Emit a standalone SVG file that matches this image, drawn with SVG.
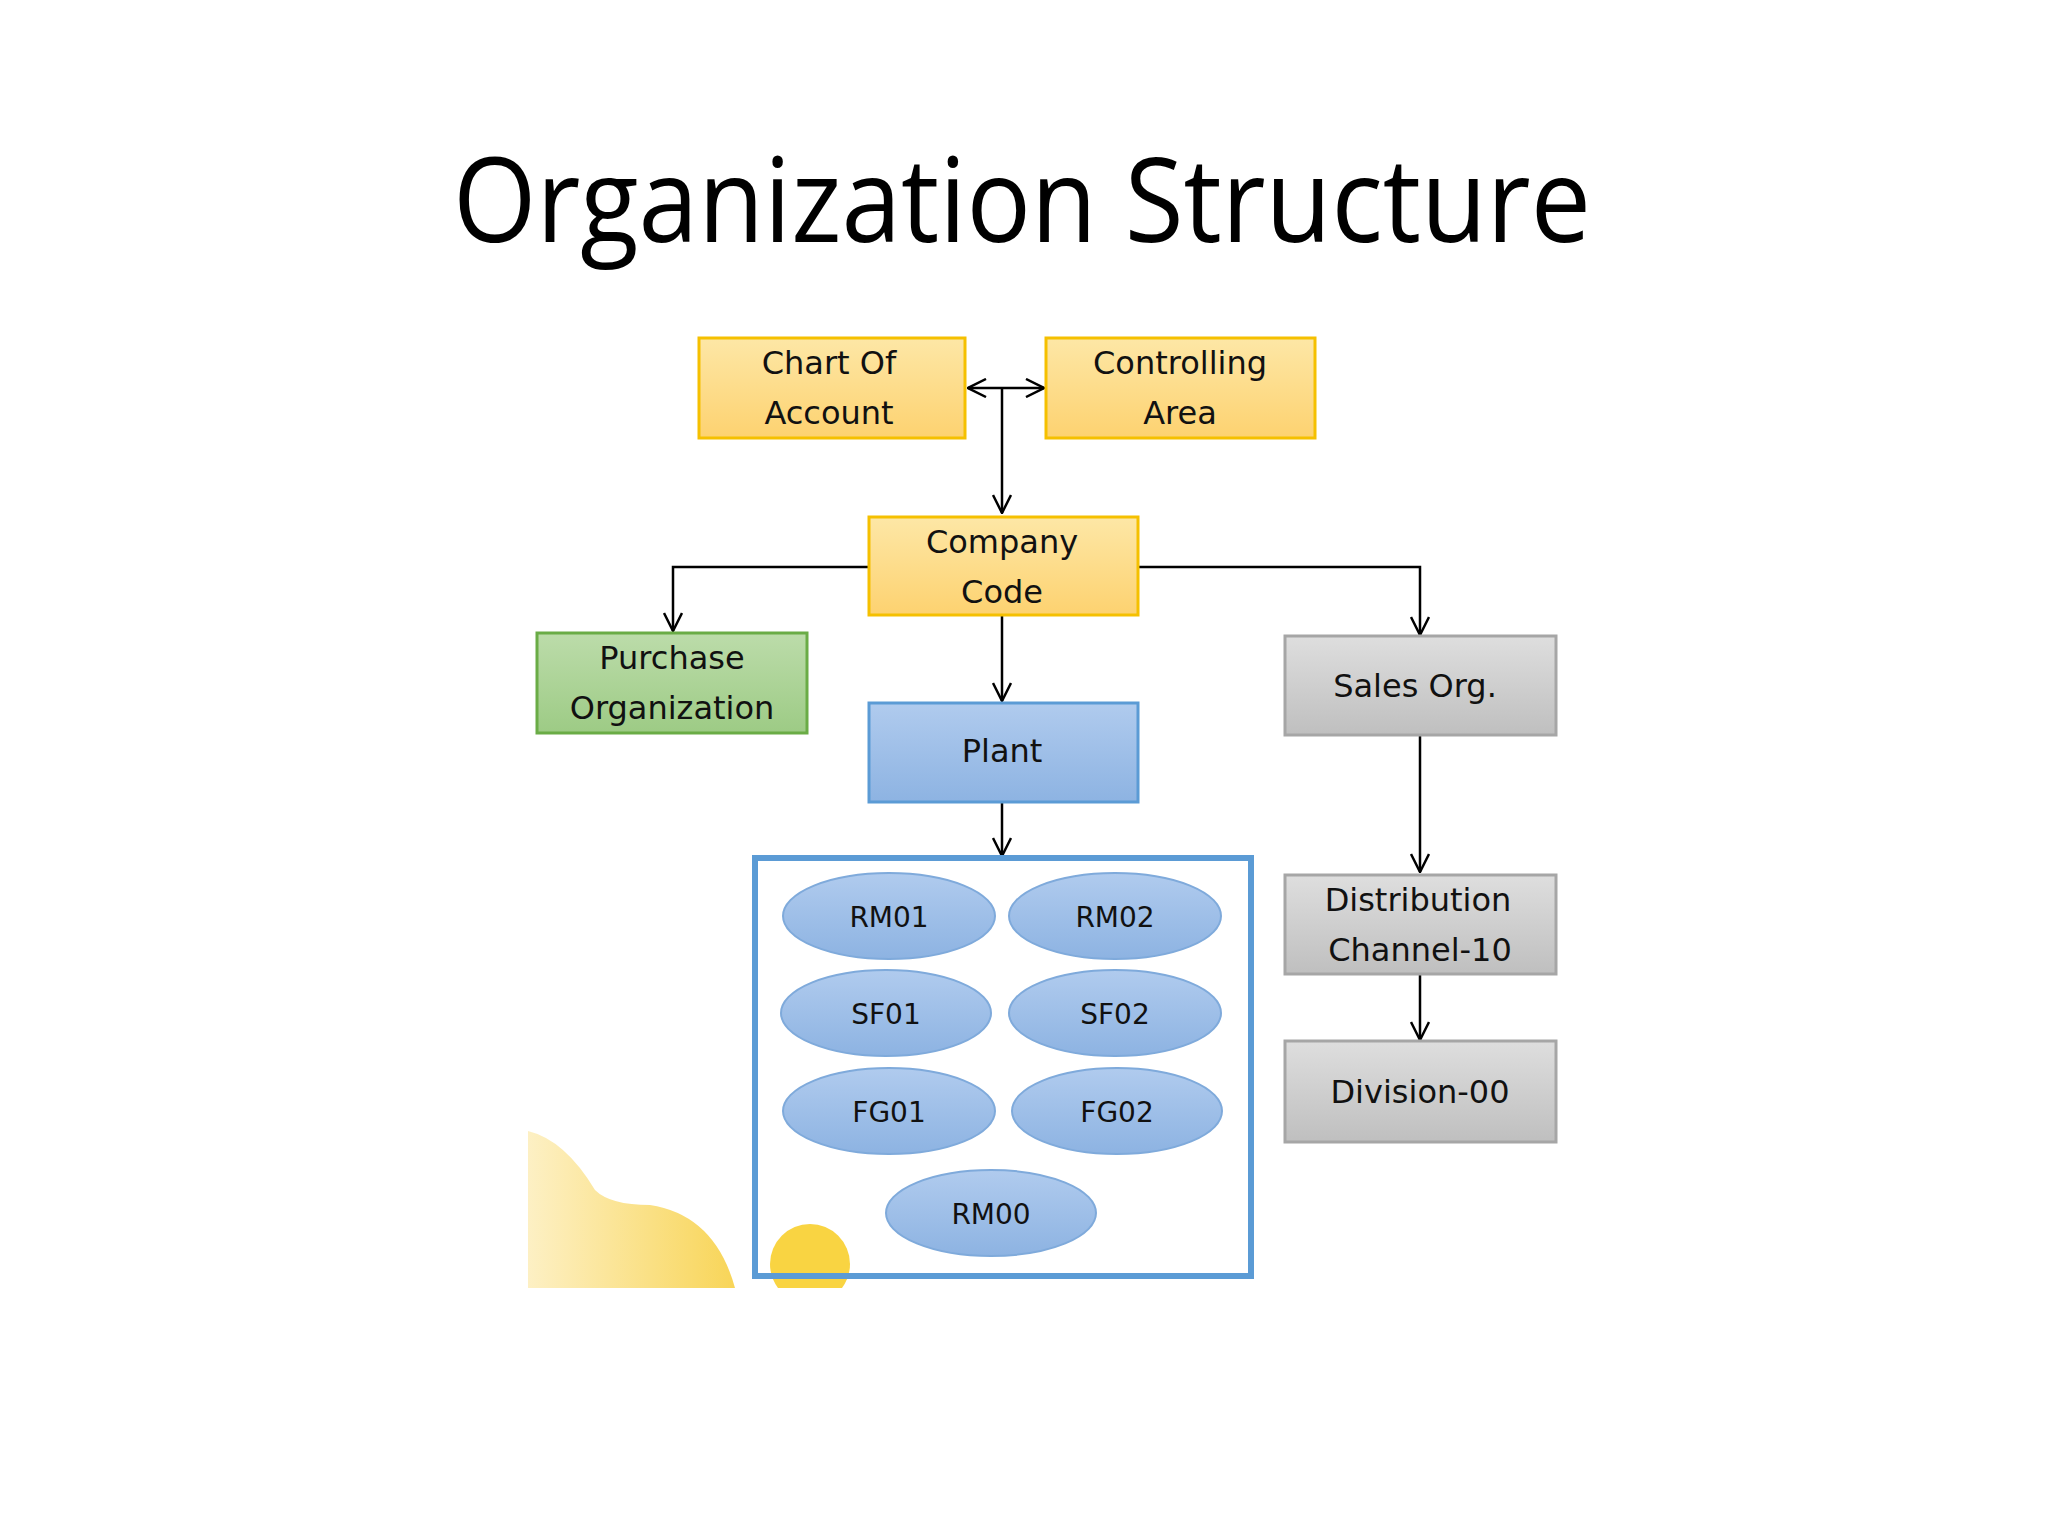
<svg xmlns="http://www.w3.org/2000/svg" width="2048" height="1536" viewBox="0 0 2048 1536">
<defs>
<linearGradient id="gy" x1="0" y1="0" x2="0" y2="1"><stop offset="0" stop-color="#fde7a6"/><stop offset="1" stop-color="#fdd270"/></linearGradient>
<linearGradient id="gg" x1="0" y1="0" x2="0" y2="1"><stop offset="0" stop-color="#bcdcaa"/><stop offset="1" stop-color="#9dcb85"/></linearGradient>
<linearGradient id="gb" x1="0" y1="0" x2="0" y2="1"><stop offset="0" stop-color="#b0cbee"/><stop offset="1" stop-color="#8db3e2"/></linearGradient>
<linearGradient id="gs" x1="0" y1="0" x2="0" y2="1"><stop offset="0" stop-color="#dedede"/><stop offset="1" stop-color="#bfbfbf"/></linearGradient>
<linearGradient id="gd" x1="0" y1="0" x2="1" y2="0"><stop offset="0" stop-color="#fdf0c4"/><stop offset="1" stop-color="#f8d558"/></linearGradient>
<clipPath id="cp"><rect x="0" y="0" width="2048" height="1288"/></clipPath>
<marker id="ah" viewBox="0 0 20 20" refX="19" refY="10" markerWidth="20" markerHeight="20" markerUnits="userSpaceOnUse" orient="auto-start-reverse"><path d="M1,1 L19,10 L1,19" fill="none" stroke="#000" stroke-width="2.5"/></marker>
</defs>
<style>
text{font-family:"DejaVu Sans","Liberation Sans",sans-serif;font-size:32px;fill:#111;text-anchor:middle}
.y{fill:url(#gy);stroke:#f5c000;stroke-width:3}
.g{fill:url(#gg);stroke:#6aac46;stroke-width:3}
.b{fill:url(#gb);stroke:#5b9bd5;stroke-width:3}
.s{fill:url(#gs);stroke:#a6a6a6;stroke-width:3}
.e{fill:url(#gb);stroke:#7faadb;stroke-width:2}
.c{fill:none;stroke:#000;stroke-width:2.5;marker-end:url(#ah)}
</style>
<rect width="2048" height="1536" fill="#fff"/>
<text x="1022" y="242" style="font-family:'Open Sans','Liberation Sans',sans-serif;font-size:118px;fill:#000" textLength="1138" lengthAdjust="spacingAndGlyphs">Organization Structure</text>
<g id="deco">
<path d="M528,1131 Q565,1140 595,1190 Q610,1205 650,1205 Q715,1215 735,1288 L528,1288 Z" fill="url(#gd)"/>
<circle cx="810" cy="1264" r="40" fill="#f9d442" clip-path="url(#cp)"/>
</g>
<g id="connectors">
<path class="c" d="M1002,388 L1002,513"/>
<path class="c" d="M1002,388 L968,388" />
<path class="c" d="M1002,388 L1044,388"/>
<path class="c" d="M869,567 L673,567 L673,631"/>
<path class="c" d="M1138,567 L1420,567 L1420,635"/>
<path class="c" d="M1002,615 L1002,701"/>
<path class="c" d="M1002,802 L1002,856"/>
<path class="c" d="M1420,735 L1420,872"/>
<path class="c" d="M1420,974 L1420,1040"/>
</g>
<g id="chart"><rect class="y" x="699" y="338" width="266" height="100"/><text x="829" y="374">Chart Of</text><text x="829" y="424">Account</text></g>
<g id="controlling"><rect class="y" x="1046" y="338" width="269" height="100"/><text x="1180" y="374">Controlling</text><text x="1180" y="424">Area</text></g>
<g id="company"><rect class="y" x="869" y="517" width="269" height="98"/><text x="1002" y="553">Company</text><text x="1002" y="603">Code</text></g>
<g id="purchase"><rect class="g" x="537" y="633" width="270" height="100"/><text x="672" y="669">Purchase</text><text x="672" y="719">Organization</text></g>
<g id="plant"><rect class="b" x="869" y="703" width="269" height="99"/><text x="1002" y="762">Plant</text></g>
<g id="sales"><rect class="s" x="1285" y="636" width="271" height="99"/><text x="1415" y="697">Sales Org.</text></g>
<g id="distribution"><rect class="s" x="1285" y="875" width="271" height="99"/><text x="1418" y="911">Distribution</text><text x="1420" y="961">Channel-10</text></g>
<g id="division"><rect class="s" x="1285" y="1041" width="271" height="101"/><text x="1420" y="1103">Division-00</text></g>
<g id="container"><rect x="755" y="858" width="496" height="418" fill="none" stroke="#5b9bd5" stroke-width="6"/></g>
<g id="rm01"><ellipse class="e" cx="889" cy="916" rx="106" ry="43"/><text x="889" y="927" style="font-size:28px">RM01</text></g>
<g id="rm02"><ellipse class="e" cx="1115" cy="916" rx="106" ry="43"/><text x="1115" y="927" style="font-size:28px">RM02</text></g>
<g id="sf01"><ellipse class="e" cx="886" cy="1013" rx="105" ry="43"/><text x="886" y="1024" style="font-size:28px">SF01</text></g>
<g id="sf02"><ellipse class="e" cx="1115" cy="1013" rx="106" ry="43"/><text x="1115" y="1024" style="font-size:28px">SF02</text></g>
<g id="fg01"><ellipse class="e" cx="889" cy="1111" rx="106" ry="43"/><text x="889" y="1122" style="font-size:28px">FG01</text></g>
<g id="fg02"><ellipse class="e" cx="1117" cy="1111" rx="105" ry="43"/><text x="1117" y="1122" style="font-size:28px">FG02</text></g>
<g id="rm00"><ellipse class="e" cx="991" cy="1213" rx="105" ry="43"/><text x="991" y="1224" style="font-size:28px">RM00</text></g>
</svg>
